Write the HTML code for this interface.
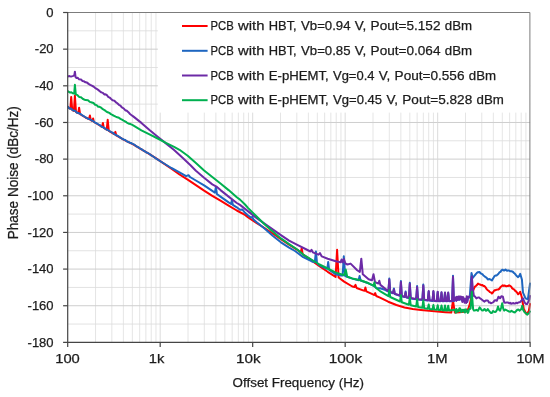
<!DOCTYPE html>
<html><head><meta charset="utf-8"><title>Phase Noise</title>
<style>html,body{margin:0;padding:0;background:#fff}body{width:550px;height:397px;overflow:hidden}</style></head>
<body>
<svg width="550" height="397" viewBox="0 0 550 397" style="display:block">
<rect width="550" height="397" fill="#fff"/>
<g stroke="#e2e2e2" stroke-width="1">
<line x1="67.7" y1="30.83" x2="530.1" y2="30.83"/>
<line x1="67.7" y1="67.48" x2="530.1" y2="67.48"/>
<line x1="67.7" y1="104.14" x2="530.1" y2="104.14"/>
<line x1="67.7" y1="140.79" x2="530.1" y2="140.79"/>
<line x1="67.7" y1="177.45" x2="530.1" y2="177.45"/>
<line x1="67.7" y1="214.10" x2="530.1" y2="214.10"/>
<line x1="67.7" y1="250.76" x2="530.1" y2="250.76"/>
<line x1="67.7" y1="287.41" x2="530.1" y2="287.41"/>
<line x1="67.7" y1="324.07" x2="530.1" y2="324.07"/>
</g>
<g stroke="#dcdcdc" stroke-width="0.75">
<line x1="95.54" y1="12.5" x2="95.54" y2="342.4"/>
<line x1="111.83" y1="12.5" x2="111.83" y2="342.4"/>
<line x1="123.38" y1="12.5" x2="123.38" y2="342.4"/>
<line x1="132.35" y1="12.5" x2="132.35" y2="342.4"/>
<line x1="139.67" y1="12.5" x2="139.67" y2="342.4"/>
<line x1="145.86" y1="12.5" x2="145.86" y2="342.4"/>
<line x1="151.23" y1="12.5" x2="151.23" y2="342.4"/>
<line x1="155.96" y1="12.5" x2="155.96" y2="342.4"/>
<line x1="188.03" y1="12.5" x2="188.03" y2="342.4"/>
<line x1="204.32" y1="12.5" x2="204.32" y2="342.4"/>
<line x1="215.87" y1="12.5" x2="215.87" y2="342.4"/>
<line x1="224.84" y1="12.5" x2="224.84" y2="342.4"/>
<line x1="232.16" y1="12.5" x2="232.16" y2="342.4"/>
<line x1="238.35" y1="12.5" x2="238.35" y2="342.4"/>
<line x1="243.72" y1="12.5" x2="243.72" y2="342.4"/>
<line x1="248.45" y1="12.5" x2="248.45" y2="342.4"/>
<line x1="280.52" y1="12.5" x2="280.52" y2="342.4"/>
<line x1="296.81" y1="12.5" x2="296.81" y2="342.4"/>
<line x1="308.36" y1="12.5" x2="308.36" y2="342.4"/>
<line x1="317.33" y1="12.5" x2="317.33" y2="342.4"/>
<line x1="324.65" y1="12.5" x2="324.65" y2="342.4"/>
<line x1="330.84" y1="12.5" x2="330.84" y2="342.4"/>
<line x1="336.21" y1="12.5" x2="336.21" y2="342.4"/>
<line x1="340.94" y1="12.5" x2="340.94" y2="342.4"/>
<line x1="373.01" y1="12.5" x2="373.01" y2="342.4"/>
<line x1="389.30" y1="12.5" x2="389.30" y2="342.4"/>
<line x1="400.85" y1="12.5" x2="400.85" y2="342.4"/>
<line x1="409.82" y1="12.5" x2="409.82" y2="342.4"/>
<line x1="417.14" y1="12.5" x2="417.14" y2="342.4"/>
<line x1="423.33" y1="12.5" x2="423.33" y2="342.4"/>
<line x1="428.70" y1="12.5" x2="428.70" y2="342.4"/>
<line x1="433.43" y1="12.5" x2="433.43" y2="342.4"/>
<line x1="465.50" y1="12.5" x2="465.50" y2="342.4"/>
<line x1="481.79" y1="12.5" x2="481.79" y2="342.4"/>
<line x1="493.34" y1="12.5" x2="493.34" y2="342.4"/>
<line x1="502.31" y1="12.5" x2="502.31" y2="342.4"/>
<line x1="509.63" y1="12.5" x2="509.63" y2="342.4"/>
<line x1="515.82" y1="12.5" x2="515.82" y2="342.4"/>
<line x1="521.19" y1="12.5" x2="521.19" y2="342.4"/>
<line x1="525.92" y1="12.5" x2="525.92" y2="342.4"/>
</g>
<g stroke="#cecece" stroke-width="1">
<line x1="67.7" y1="49.16" x2="530.1" y2="49.16"/>
<line x1="67.7" y1="85.81" x2="530.1" y2="85.81"/>
<line x1="67.7" y1="122.47" x2="530.1" y2="122.47"/>
<line x1="67.7" y1="159.12" x2="530.1" y2="159.12"/>
<line x1="67.7" y1="195.78" x2="530.1" y2="195.78"/>
<line x1="67.7" y1="232.43" x2="530.1" y2="232.43"/>
<line x1="67.7" y1="269.09" x2="530.1" y2="269.09"/>
<line x1="67.7" y1="305.74" x2="530.1" y2="305.74"/>
</g>
<g stroke="#d6d6d6" stroke-width="0.85">
<line x1="160.19" y1="12.5" x2="160.19" y2="342.4"/>
<line x1="252.68" y1="12.5" x2="252.68" y2="342.4"/>
<line x1="345.17" y1="12.5" x2="345.17" y2="342.4"/>
<line x1="437.66" y1="12.5" x2="437.66" y2="342.4"/>
</g>
<rect x="157.8" y="12.5" width="372.3" height="100.1" fill="#fff"/>
<clipPath id="c"><rect x="67.7" y="12.5" width="463.2" height="329.9"/></clipPath>
<g fill="none" stroke-width="2" stroke-linejoin="round" stroke-linecap="round" clip-path="url(#c)">
<path stroke="#fe0000" d="M67.7 107.2 L70.4 108.8 L71.2 96.9 L72.2 109.9 L73.9 110.9 L74.9 95.6 L76.0 112.0 L78.3 113.2 L79.1 107.7 L80.1 114.2 L85.5 117.5 L89.0 119.2 L89.9 115.4 L90.8 120.2 L92.4 121.0 L93.1 118.5 L93.9 122.0 L98.2 124.5 L102.0 126.8 L102.9 123.0 L103.8 127.9 L106.7 129.6 L107.7 119.8 L108.8 130.8 L110.9 132.1 L114.6 134.3 L115.4 131.9 L116.3 135.3 L123.6 139.7 L130.0 142.9 L133.2 144.4 L141.4 149.3 L149.5 154.2 L155.0 157.6 L163.2 163.1 L171.4 168.8 L179.5 174.5 L187.7 179.7 L195.9 185.2 L204.1 190.7 L212.3 195.8 L220.5 200.7 L228.6 205.6 L236.8 210.5 L245.0 214.9 L248.2 217.4 L256.4 222.9 L264.5 228.0 L272.7 233.5 L280.9 239.2 L289.1 244.7 L297.3 249.8 L300.8 252.4 L301.7 248.2 L302.6 254.0 L303.2 254.6 L311.4 260.4 L319.5 266.1 L327.7 271.8 L335.6 276.9 L337.1 249.7 L338.6 277.5 L344.1 281.6 L352.3 286.5 L354.5 287.0 L355.5 284.9 L356.6 288.0 L363.7 290.6 L364.6 290.8 L365.4 287.4 L366.3 291.3 L373.5 294.7 L374.4 294.9 L375.2 293.1 L376.2 296.0 L380.0 297.6 L388.2 301.7 L396.4 305.0 L404.5 307.5 L412.7 309.1 L420.9 309.9 L429.1 310.7 L437.3 311.5 L445.5 312.2 L451.3 312.6 L453.0 300.5 L454.8 312.6 L460.0 312.3 L466.0 311.5 L468.2 309.0 L469.8 304.1 L472.3 292.6 L474.7 286.9 L475.8 286.1 L476.9 285.1 L478.0 283.6 L479.1 284.2 L480.2 284.5 L481.3 285.3 L482.4 285.0 L483.4 286.0 L484.5 286.1 L485.6 287.4 L486.7 289.1 L487.8 290.2 L488.8 290.9 L489.9 292.1 L490.9 292.4 L491.9 293.5 L493.1 292.2 L494.4 290.2 L495.4 290.3 L496.4 289.7 L497.5 289.6 L498.5 289.4 L499.5 288.6 L500.5 287.0 L501.5 286.4 L502.5 285.3 L503.5 285.9 L504.5 285.5 L505.5 286.0 L506.4 286.2 L507.3 285.9 L508.2 285.9 L509.1 285.3 L510.1 285.9 L511.1 286.5 L512.0 288.1 L513.0 288.9 L514.0 289.4 L515.0 290.6 L516.0 291.4 L517.1 292.7 L518.1 294.3 L519.2 293.2 L520.2 291.8 L521.9 297.5 L523.8 309.0 L526.3 313.9 L528.7 311.5 L530.0 304.1"/>
<path stroke="#1e66c0" d="M67.7 106.5 L69.5 108.6 L71.0 108.4 L72.7 110.3 L75.0 110.8 L77.0 112.8 L79.1 113.3 L80.7 114.1 L82.3 115.3 L83.9 116.2 L85.5 117.3 L87.1 118.2 L88.7 119.0 L90.2 119.4 L91.8 120.5 L93.4 121.2 L95.0 122.6 L96.6 123.2 L98.2 124.3 L99.8 125.1 L101.3 126.5 L102.9 127.1 L104.5 128.1 L106.1 129.3 L107.7 130.0 L109.3 131.0 L110.9 131.9 L112.5 132.6 L114.1 133.9 L115.7 135.0 L117.3 135.7 L118.9 136.7 L120.4 137.7 L122.0 138.7 L123.6 139.5 L125.2 140.0 L126.8 141.3 L128.4 142.0 L130.0 142.7 L131.6 143.3 L133.2 144.2 L134.8 144.9 L136.5 146.4 L138.1 147.1 L139.8 148.3 L141.4 149.1 L143.0 150.3 L144.6 151.2 L146.3 152.3 L147.9 153.0 L149.5 154.0 L151.3 155.4 L153.2 156.5 L155.0 157.8 L163.2 163.0 L171.4 168.0 L179.5 172.3 L186.1 176.2 L188.5 175.2 L190.0 177.0 L195.9 180.5 L204.1 185.4 L212.3 190.9 L214.9 192.7 L215.9 186.8 L216.9 194.0 L220.5 196.6 L228.6 202.4 L231.1 204.0 L231.9 199.9 L232.8 204.8 L236.8 207.3 L240.0 209.7 L242.5 209.6 L245.0 212.8 L248.2 215.5 L251.0 217.6 L252.3 216.9 L253.5 219.5 L256.4 222.0 L264.5 228.5 L272.7 235.7 L280.9 242.3 L289.1 247.6 L295.0 251.0 L303.2 257.1 L311.4 261.2 L314.8 262.3 L315.9 251.4 L317.0 263.0 L319.5 265.3 L326.1 268.5 L327.3 268.8 L328.2 262.0 L329.2 270.0 L335.9 274.3 L340.8 275.4 L342.6 275.6 L343.8 256.3 L345.2 276.0 L352.3 278.6 L358.6 280.2 L359.6 275.9 L360.6 280.5 L368.6 283.3 L373.4 285.7 L376.8 288.2 L380.0 288.2 L384.9 289.8 L388.4 291.5 L389.3 278.6 L390.2 292.2 L393.0 293.3 L393.9 288.5 L394.8 294.1 L400.0 295.8 L400.9 281.1 L401.8 296.3 L404.7 297.1 L405.6 291.5 L406.5 297.5 L408.9 298.0 L409.8 282.7 L410.7 298.4 L416.2 299.2 L417.1 286.0 L418.0 299.5 L422.4 299.9 L423.3 284.6 L424.2 300.1 L427.8 300.5 L428.7 291.4 L429.6 300.6 L432.5 300.9 L433.4 291.4 L434.3 301.0 L436.8 301.2 L437.7 292.0 L438.6 301.2 L440.6 301.2 L441.5 292.6 L442.4 301.2 L444.1 301.2 L445.0 292.8 L445.9 301.2 L447.3 301.2 L448.2 292.8 L449.1 301.2 L452.1 301.2 L453.0 275.8 L453.9 301.1 L455.2 299.4 L455.8 298.5 L456.3 300.3 L456.9 298.2 L457.4 299.9 L458.0 299.3 L458.5 298.2 L459.1 299.8 L459.6 298.1 L460.2 299.5 L460.7 298.2 L461.3 298.2 L461.8 299.4 L462.4 300.8 L462.9 298.3 L463.5 298.6 L464.0 300.0 L464.6 301.2 L465.1 299.8 L465.7 299.1 L466.2 301.2 L466.8 297.8 L467.3 300.7 L467.9 298.6 L468.4 298.1 L469.0 297.9 L469.8 296.0 L471.5 273.0 L472.8 277.9 L474.7 275.5 L475.8 274.2 L476.9 272.9 L478.0 272.2 L479.5 272.0 L480.4 273.1 L481.3 273.8 L482.4 274.1 L483.4 275.5 L484.5 276.3 L485.6 277.2 L486.7 277.9 L487.8 279.5 L489.5 279.0 L490.7 279.7 L491.9 280.4 L494.4 276.3 L495.4 275.4 L496.5 275.6 L497.5 274.6 L498.5 273.8 L499.5 272.3 L500.5 271.9 L501.5 270.3 L502.5 269.7 L504.0 270.6 L505.5 269.6 L507.0 270.8 L508.1 270.6 L509.1 270.5 L510.3 271.3 L511.5 271.3 L512.8 271.7 L514.0 273.0 L515.0 273.8 L516.0 275.2 L517.0 276.3 L518.1 277.1 L519.2 276.0 L520.2 273.8 L521.9 279.5 L523.0 292.6 L525.5 298.4 L527.9 299.2 L530.0 283.6"/>
<path stroke="#6c2aa6" d="M67.7 76.5 L69.5 76.1 L71.0 76.6 L73.4 75.9 L74.3 75.4 L74.9 71.7 L75.6 77.2 L76.5 78.0 L77.8 77.8 L79.1 79.3 L81.0 79.6 L82.5 81.0 L84.0 81.3 L85.5 82.3 L87.0 82.6 L88.6 83.9 L90.2 84.9 L91.8 85.7 L93.4 86.5 L95.0 87.8 L96.6 88.8 L98.2 89.9 L99.8 91.2 L101.3 92.4 L102.9 92.9 L104.5 94.4 L105.5 94.3 L106.8 95.0 L108.2 96.9 L109.6 97.6 L110.9 98.8 L112.5 100.2 L114.1 100.6 L115.7 102.1 L117.3 103.3 L118.9 104.8 L120.4 105.6 L122.0 107.5 L123.6 108.4 L125.2 110.2 L126.8 110.8 L128.4 112.2 L130.0 114.0 L131.6 115.2 L133.2 116.4 L141.4 122.9 L149.5 130.1 L157.7 136.8 L165.9 143.4 L174.1 150.0 L182.3 157.6 L190.5 165.3 L195.9 170.8 L204.1 177.8 L212.3 184.4 L216.4 186.6 L220.5 190.1 L228.6 196.6 L236.8 203.0 L240.0 204.9 L248.2 211.4 L256.4 217.9 L264.5 223.6 L272.7 229.4 L280.9 235.1 L289.1 240.6 L297.3 244.9 L305.5 249.0 L310.4 251.5 L311.5 249.8 L312.8 252.3 L318.5 254.7 L319.9 253.1 L321.8 256.4 L327.7 258.7 L335.9 261.2 L340.6 262.2 L341.6 259.5 L342.6 262.4 L343.9 259.0 L345.4 263.5 L347.4 264.5 L350.6 263.6 L357.2 270.2 L359.8 272.0 L361.3 258.7 L362.8 274.3 L368.6 279.2 L372.0 280.3 L373.5 274.3 L375.0 282.3 L378.4 283.5 L379.3 280.8 L380.4 284.9 L388.4 291.2 L389.3 279.6 L390.2 291.9 L393.0 293.0 L393.9 289.5 L394.8 293.8 L400.0 295.5 L400.9 282.1 L401.8 296.0 L404.7 296.8 L405.6 292.5 L406.5 297.2 L408.9 297.7 L409.8 283.7 L410.7 298.1 L416.2 298.9 L417.1 287.0 L418.0 299.2 L422.4 299.6 L423.3 285.6 L424.2 299.8 L427.8 300.2 L428.7 291.1 L429.6 300.3 L432.5 300.6 L433.4 291.1 L434.3 300.7 L436.8 300.9 L437.7 291.7 L438.6 300.9 L440.6 300.9 L441.5 292.3 L442.4 300.9 L444.1 300.9 L445.0 292.5 L445.9 300.9 L447.3 300.9 L448.2 292.5 L449.1 300.9 L452.1 300.9 L453.0 276.8 L453.9 300.8 L455.2 298.8 L455.8 297.3 L456.3 300.9 L456.9 296.7 L457.4 300.0 L458.0 298.8 L458.5 296.6 L459.1 299.8 L459.6 296.4 L460.2 299.2 L460.7 296.6 L461.3 296.8 L461.8 299.2 L462.4 302.0 L462.9 296.9 L463.5 297.6 L464.0 300.5 L464.6 302.8 L465.1 300.1 L465.7 298.7 L466.2 302.9 L466.8 296.2 L467.3 302.0 L467.9 297.8 L468.4 296.8 L469.0 296.6 L470.6 297.0 L471.8 276.5 L473.0 290.0 L473.9 295.9 L475.1 296.7 L476.4 298.4 L478.0 297.5 L479.1 297.4 L480.2 298.5 L481.3 299.2 L483.0 300.6 L484.5 301.6 L485.8 300.4 L487.0 300.4 L488.0 300.8 L489.0 302.6 L489.9 302.4 L490.9 303.2 L491.8 303.0 L492.7 302.5 L493.6 301.9 L494.5 300.5 L495.6 300.2 L496.8 300.8 L498.5 296.7 L500.0 298.3 L501.5 296.2 L502.9 296.7 L504.2 302.5 L505.2 302.7 L506.2 302.5 L507.1 302.5 L508.1 302.5 L509.1 303.3 L510.1 302.8 L511.1 303.8 L512.0 303.6 L513.0 303.0 L514.1 303.6 L515.1 303.6 L516.2 302.7 L517.3 303.3 L518.3 302.4 L519.3 302.3 L520.4 301.8 L521.4 300.8 L523.0 298.4 L524.6 302.5 L525.9 303.9 L527.1 304.1 L529.5 299.2 L530.0 295.9"/>
<path stroke="#00b050" d="M67.7 91.2 L70.0 92.6 L71.3 92.2 L72.7 93.3 L74.2 93.6 L74.9 84.8 L75.8 94.4 L77.5 95.2 L79.1 96.9 L81.0 97.2 L83.0 99.0 L85.5 100.1 L88.0 100.3 L89.9 101.9 L91.8 102.5 L93.5 103.0 L95.1 104.7 L96.6 105.1 L98.2 106.8 L99.6 106.8 L101.0 107.6 L102.8 109.2 L104.5 110.1 L106.1 111.3 L107.7 112.3 L109.3 112.9 L110.9 114.1 L112.5 115.0 L114.1 115.8 L115.7 116.6 L117.3 117.3 L118.9 117.8 L120.4 118.9 L122.0 119.7 L123.6 120.6 L125.0 121.3 L126.4 122.2 L127.7 123.2 L129.1 123.8 L130.5 124.1 L131.8 124.7 L133.2 125.4 L141.4 130.3 L149.5 134.4 L157.7 138.5 L165.9 142.9 L174.1 146.8 L179.5 149.8 L187.7 155.8 L195.9 163.0 L204.1 170.5 L212.3 177.0 L220.5 183.5 L228.6 190.1 L236.8 197.3 L240.0 199.6 L245.0 204.5 L248.2 208.1 L256.4 216.3 L264.5 224.3 L272.7 231.6 L280.9 238.4 L289.1 244.1 L297.3 249.5 L303.2 254.6 L311.4 259.5 L319.5 264.5 L327.7 268.5 L335.9 272.6 L344.3 275.3 L345.7 269.4 L347.2 276.7 L352.3 278.4 L360.5 280.2 L368.6 283.3 L373.4 285.7 L374.4 282.5 L375.5 287.4 L376.8 288.4 L380.0 291.1 L388.4 296.1 L389.3 290.3 L390.2 297.0 L400.0 301.5 L400.9 295.2 L401.8 302.3 L408.9 304.7 L409.8 297.6 L410.7 305.2 L416.2 306.5 L417.1 299.3 L418.0 306.9 L422.4 307.8 L423.3 300.2 L424.2 308.2 L427.8 308.8 L428.7 304.4 L429.6 309.1 L432.5 309.4 L433.4 305.0 L434.3 309.6 L436.8 309.8 L437.7 305.2 L438.6 310.0 L440.6 310.1 L441.5 305.4 L442.4 310.3 L444.1 310.4 L445.0 305.6 L445.9 310.5 L447.3 310.6 L448.2 305.8 L449.1 310.6 L455.2 309.7 L455.8 312.8 L456.4 309.0 L457.0 311.4 L457.6 311.7 L458.2 310.1 L458.8 311.2 L459.4 308.3 L460.0 308.3 L460.6 309.2 L461.2 312.1 L461.8 310.6 L462.4 309.8 L463.0 311.4 L463.6 310.6 L464.2 309.6 L464.8 312.6 L465.4 312.0 L466.0 309.2 L466.6 311.1 L467.2 310.8 L467.8 312.9 L468.4 312.0 L469.0 309.3 L470.6 308.5 L471.8 291.8 L473.1 309.0 L473.9 310.6 L475.1 310.4 L476.4 309.8 L478.0 310.8 L479.6 307.4 L481.0 309.2 L481.9 310.3 L482.9 310.6 L484.5 309.0 L486.0 310.8 L486.9 310.4 L487.8 309.0 L489.5 311.5 L491.1 313.1 L492.1 312.8 L493.0 311.0 L494.0 311.6 L495.0 312.0 L496.0 311.5 L497.2 309.5 L498.0 306.5 L499.0 309.8 L500.1 310.6 L501.2 307.5 L502.2 303.3 L503.2 308.5 L504.2 310.6 L505.4 309.6 L506.5 310.2 L507.8 310.8 L509.1 311.5 L510.3 311.8 L511.5 310.7 L512.8 311.7 L514.0 312.3 L515.0 312.4 L516.0 311.2 L517.3 309.8 L518.4 309.6 L519.5 310.6 L520.5 309.8 L521.4 309.0 L522.2 305.7 L523.2 310.0 L524.6 312.3 L525.9 313.1 L527.1 314.7 L528.6 313.5 L530.0 311.5"/>
</g>
<path d="M67.7 12.5 H529.9 V342.4" fill="none" stroke="#7c7c7c" stroke-width="1"/>
<g stroke="#454545" stroke-width="1.2" fill="none">
<line x1="67.7" y1="12.0" x2="67.7" y2="346.9"/>
<line x1="63.1" y1="342.4" x2="530.6" y2="342.4"/>
<line x1="63.1" y1="12.50" x2="67.7" y2="12.50"/>
<line x1="63.1" y1="49.16" x2="67.7" y2="49.16"/>
<line x1="63.1" y1="85.81" x2="67.7" y2="85.81"/>
<line x1="63.1" y1="122.47" x2="67.7" y2="122.47"/>
<line x1="63.1" y1="159.12" x2="67.7" y2="159.12"/>
<line x1="63.1" y1="195.78" x2="67.7" y2="195.78"/>
<line x1="63.1" y1="232.43" x2="67.7" y2="232.43"/>
<line x1="63.1" y1="269.09" x2="67.7" y2="269.09"/>
<line x1="63.1" y1="305.74" x2="67.7" y2="305.74"/>
<line x1="160.19" y1="342.4" x2="160.19" y2="346.9"/>
<line x1="252.68" y1="342.4" x2="252.68" y2="346.9"/>
<line x1="345.17" y1="342.4" x2="345.17" y2="346.9"/>
<line x1="437.66" y1="342.4" x2="437.66" y2="346.9"/>
<line x1="530.15" y1="342.4" x2="530.15" y2="346.9"/>
</g>
<g font-family="'Liberation Sans', Arial, sans-serif" fill="#1c1c1c" stroke="#1c1c1c" stroke-width="0.25">
<text x="53.6" y="16.7" font-size="13" text-anchor="end">0</text>
<text x="53.6" y="53.4" font-size="13" text-anchor="end">-20</text>
<text x="53.6" y="90.0" font-size="13" text-anchor="end">-40</text>
<text x="53.6" y="126.7" font-size="13" text-anchor="end">-60</text>
<text x="53.6" y="163.3" font-size="13" text-anchor="end">-80</text>
<text x="53.6" y="200.0" font-size="13" text-anchor="end">-100</text>
<text x="53.6" y="236.6" font-size="13" text-anchor="end">-120</text>
<text x="53.6" y="273.3" font-size="13" text-anchor="end">-140</text>
<text x="53.6" y="309.9" font-size="13" text-anchor="end">-160</text>
<text x="53.6" y="346.6" font-size="13" text-anchor="end">-180</text>
<text x="55.2" y="363.3" font-size="13" textLength="24.6" lengthAdjust="spacingAndGlyphs">100</text>
<text x="148.8" y="363.3" font-size="13" textLength="15.6" lengthAdjust="spacingAndGlyphs">1k</text>
<text x="236.0" y="363.3" font-size="13" textLength="24.6" lengthAdjust="spacingAndGlyphs">10k</text>
<text x="328.8" y="363.3" font-size="13" textLength="33.3" lengthAdjust="spacingAndGlyphs">100k</text>
<text x="426.9" y="363.3" font-size="13" textLength="20.6" lengthAdjust="spacingAndGlyphs">1M</text>
<text x="516.6" y="363.3" font-size="13" textLength="28.0" lengthAdjust="spacingAndGlyphs">10M</text>
<text x="232.6" y="387.3" font-size="13.6" textLength="131.4" lengthAdjust="spacingAndGlyphs">Offset Frequency (Hz)</text>
<text transform="translate(18.0 239.2) rotate(-90)" font-size="13.8" textLength="133" lengthAdjust="spacingAndGlyphs">Phase Noise (dBc/Hz)</text>
<line x1="182" y1="26.0" x2="207.6" y2="26.0" stroke="#fe0000" stroke-width="2"/>
<text y="30.0" font-size="12.8" xml:space="preserve"><tspan x="210.6" textLength="23.2" lengthAdjust="spacingAndGlyphs">PCB</tspan> <tspan x="238.1" textLength="26.4" lengthAdjust="spacingAndGlyphs">with</tspan> <tspan x="268.8" textLength="27.9" lengthAdjust="spacingAndGlyphs">HBT,</tspan> <tspan x="301.0" textLength="49.5" lengthAdjust="spacingAndGlyphs">Vb=0.94</tspan> <tspan x="354.8" textLength="11.5" lengthAdjust="spacingAndGlyphs">V,</tspan> <tspan x="370.6" textLength="69.9" lengthAdjust="spacingAndGlyphs">Pout=5.152</tspan> <tspan x="444.8" textLength="27.3" lengthAdjust="spacingAndGlyphs">dBm</tspan></text>
<line x1="182" y1="50.8" x2="207.6" y2="50.8" stroke="#1e66c0" stroke-width="2"/>
<text y="54.8" font-size="12.8" xml:space="preserve"><tspan x="210.6" textLength="23.2" lengthAdjust="spacingAndGlyphs">PCB</tspan> <tspan x="238.1" textLength="26.4" lengthAdjust="spacingAndGlyphs">with</tspan> <tspan x="268.8" textLength="27.9" lengthAdjust="spacingAndGlyphs">HBT,</tspan> <tspan x="301.0" textLength="49.5" lengthAdjust="spacingAndGlyphs">Vb=0.85</tspan> <tspan x="354.8" textLength="11.5" lengthAdjust="spacingAndGlyphs">V,</tspan> <tspan x="370.6" textLength="69.9" lengthAdjust="spacingAndGlyphs">Pout=0.064</tspan> <tspan x="444.8" textLength="27.3" lengthAdjust="spacingAndGlyphs">dBm</tspan></text>
<line x1="182" y1="75.5" x2="207.6" y2="75.5" stroke="#6c2aa6" stroke-width="2"/>
<text y="79.5" font-size="12.8" xml:space="preserve"><tspan x="210.6" textLength="23.2" lengthAdjust="spacingAndGlyphs">PCB</tspan> <tspan x="238.1" textLength="26.4" lengthAdjust="spacingAndGlyphs">with</tspan> <tspan x="268.8" textLength="59.9" lengthAdjust="spacingAndGlyphs">E-pHEMT,</tspan> <tspan x="333.0" textLength="41.5" lengthAdjust="spacingAndGlyphs">Vg=0.4</tspan> <tspan x="378.8" textLength="11.5" lengthAdjust="spacingAndGlyphs">V,</tspan> <tspan x="394.6" textLength="69.9" lengthAdjust="spacingAndGlyphs">Pout=0.556</tspan> <tspan x="468.8" textLength="27.3" lengthAdjust="spacingAndGlyphs">dBm</tspan></text>
<line x1="182" y1="100.2" x2="207.6" y2="100.2" stroke="#00b050" stroke-width="2"/>
<text y="104.2" font-size="12.8" xml:space="preserve"><tspan x="210.6" textLength="23.2" lengthAdjust="spacingAndGlyphs">PCB</tspan> <tspan x="238.1" textLength="26.4" lengthAdjust="spacingAndGlyphs">with</tspan> <tspan x="268.8" textLength="59.9" lengthAdjust="spacingAndGlyphs">E-pHEMT,</tspan> <tspan x="333.0" textLength="49.1" lengthAdjust="spacingAndGlyphs">Vg=0.45</tspan> <tspan x="386.5" textLength="11.5" lengthAdjust="spacingAndGlyphs">V,</tspan> <tspan x="402.3" textLength="69.9" lengthAdjust="spacingAndGlyphs">Pout=5.828</tspan> <tspan x="476.5" textLength="27.3" lengthAdjust="spacingAndGlyphs">dBm</tspan></text>
</g>
</svg>
</body></html>
